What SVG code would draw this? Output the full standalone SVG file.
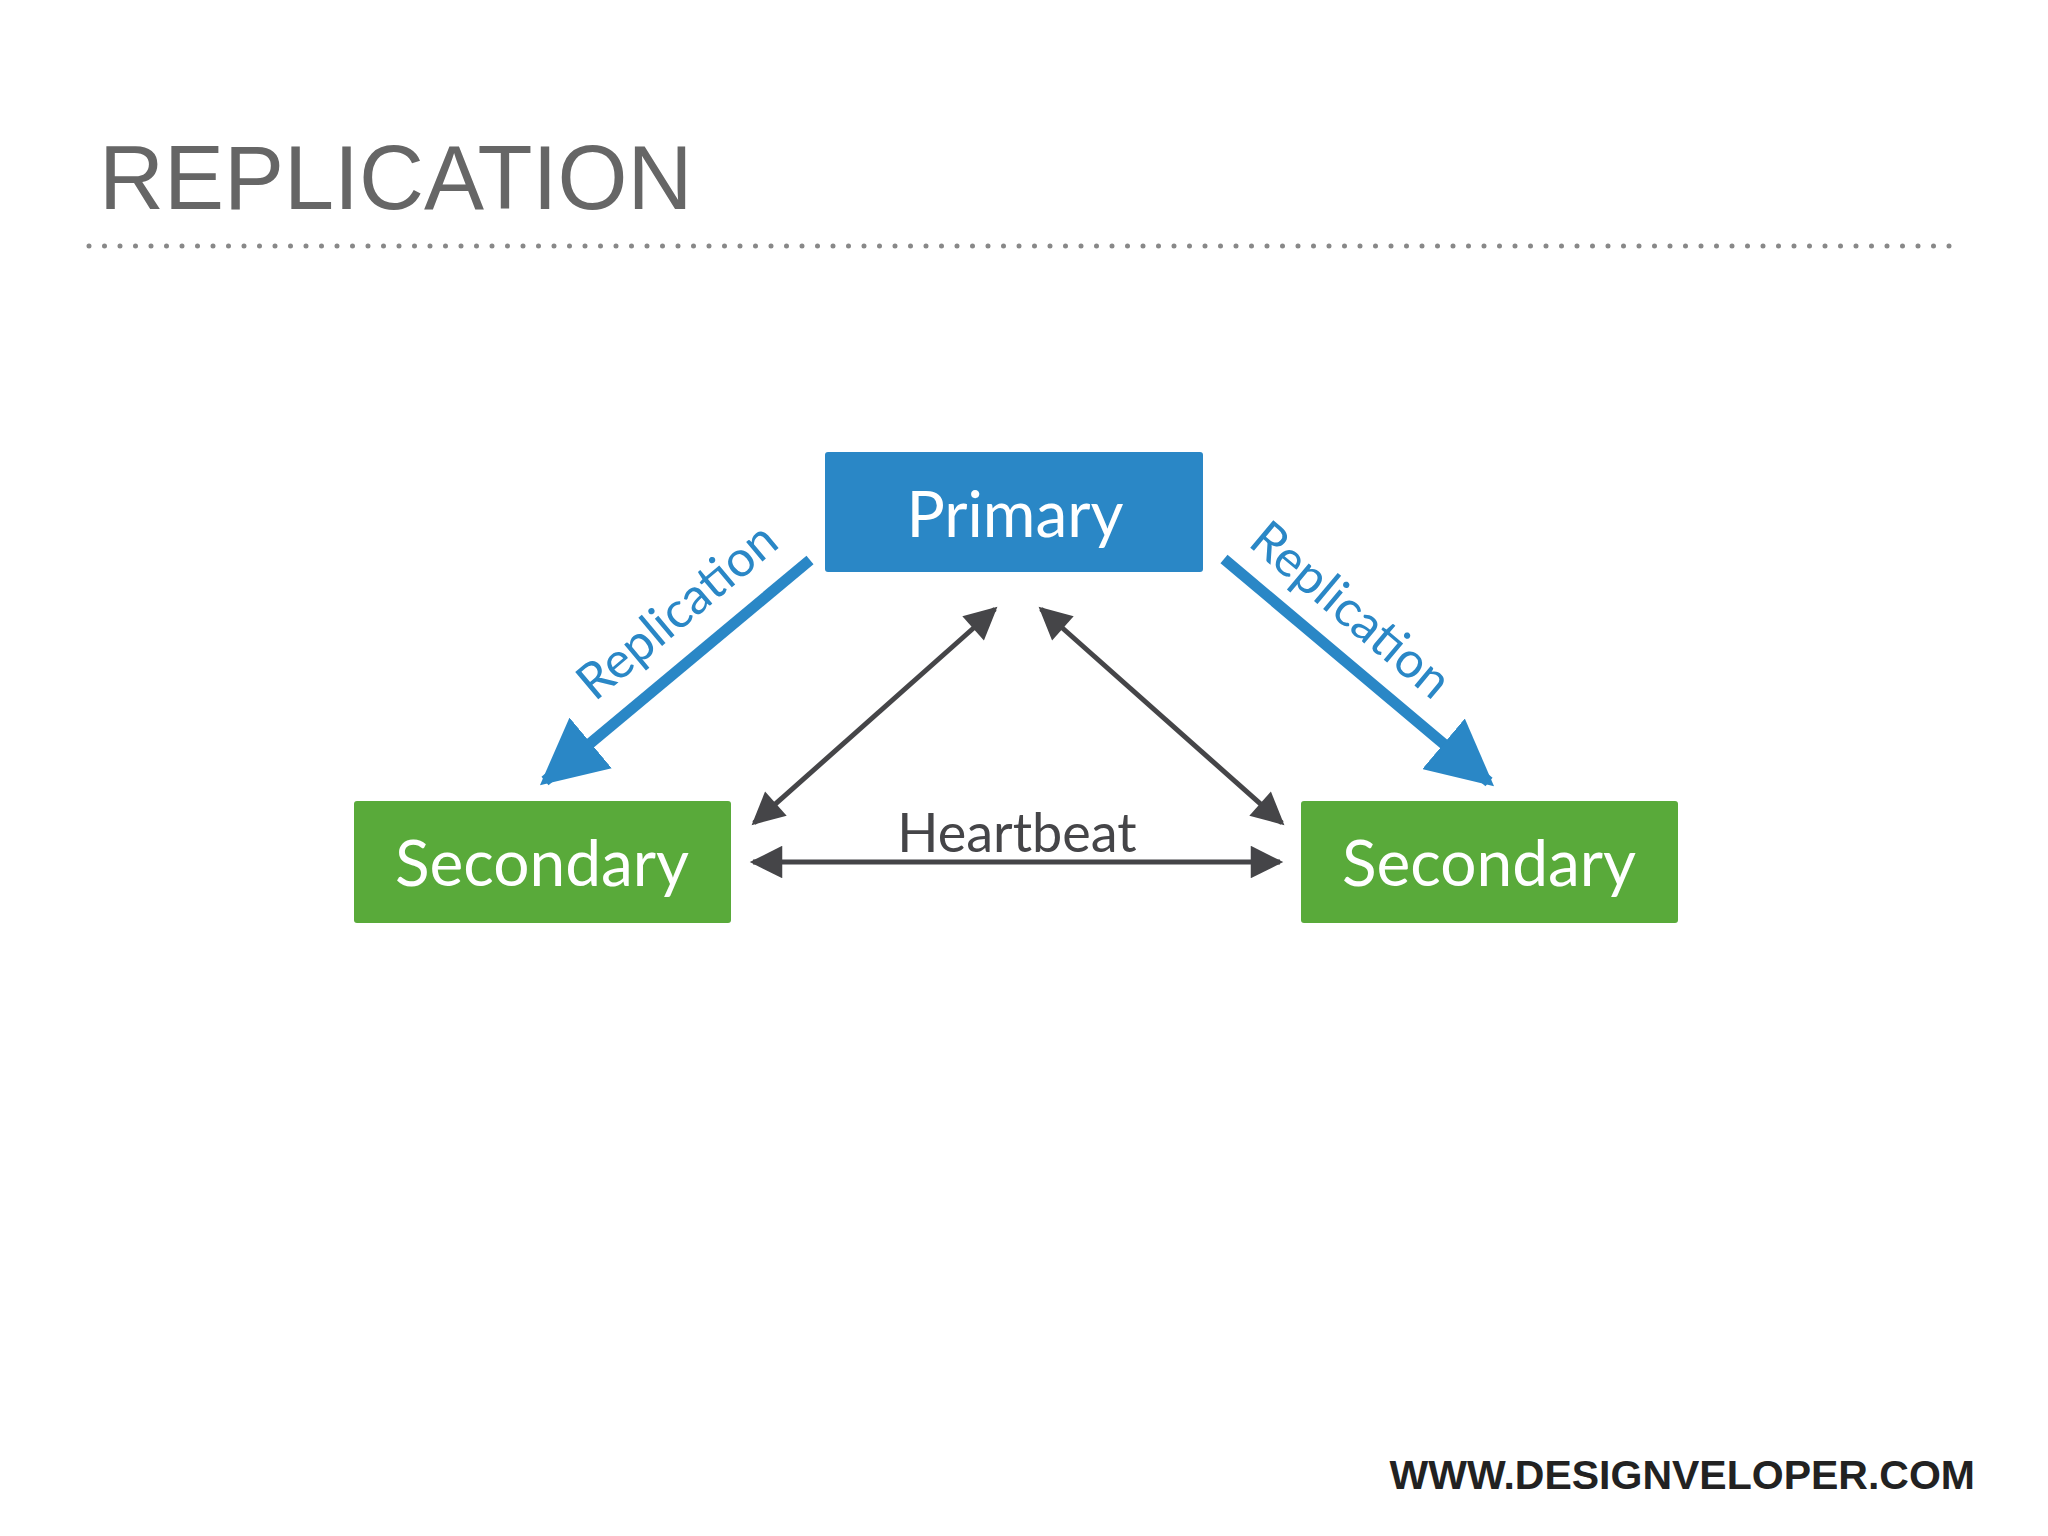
<svg xmlns="http://www.w3.org/2000/svg" width="2048" height="1536" viewBox="0 0 2048 1536">
<defs>
<style>
.node text{font-family:Lato,"Open Sans",sans-serif;font-size:64px;fill:#fff;text-anchor:middle}
.rep{font-family:Lato,"Open Sans",sans-serif;font-size:50px;fill:#2a87c6;text-anchor:middle}
.hb{stroke:#454548;stroke-width:5;fill:none;marker-start:url(#ga);marker-end:url(#ga)}
.bl{stroke:#2a87c6;stroke-width:11;fill:none;marker-end:url(#ba)}
</style>
<marker id="ga" viewBox="0 0 10 10" refX="9" refY="5" markerWidth="8" markerHeight="6.5" orient="auto-start-reverse" markerUnits="strokeWidth"><path d="M0,0 L10,5 L0,10 Z" fill="#454548"/></marker>
<marker id="ba" viewBox="0 0 10 10" refX="9" refY="5" markerWidth="6" markerHeight="6" orient="auto" markerUnits="strokeWidth"><path d="M0,0 L10,5 L0,10 Z" fill="#2a87c6"/></marker>
</defs>
<rect width="2048" height="1536" fill="#fff"/>
<text x="99" y="209" font-family="Liberation Sans,Arial,sans-serif" font-size="90" fill="#666">REPLICATION</text>
<line x1="89" y1="246" x2="1958" y2="246" stroke="#888" stroke-width="5" stroke-linecap="round" stroke-dasharray="0 15.5"/>
<g id="connectors">
<line class="bl" x1="810" y1="560" x2="545" y2="781"/>
<line class="bl" x1="1224" y1="559" x2="1489" y2="782"/>
<line class="hb" x1="995" y1="609" x2="754" y2="823"/>
<line class="hb" x1="1041" y1="609" x2="1282" y2="823"/>
<line class="hb" x1="753" y1="862" x2="1280" y2="862"/>
<text class="rep" transform="translate(688,624) rotate(-40)">Replication</text>
<text class="rep" transform="translate(1340,623) rotate(40)">Replication</text>
<text x="1017" y="852" font-family="Lato,'Open Sans',sans-serif" font-size="54" fill="#454548" text-anchor="middle">Heartbeat</text>
</g>
<g id="primary" class="node"><rect x="825" y="452" width="378" height="120" rx="3" fill="#2a87c6"/><text x="1015" y="537">Primary</text></g>
<g id="secondary-left" class="node"><rect x="354" y="801" width="377" height="122" rx="3" fill="#59aa3a"/><text x="542" y="886">Secondary</text></g>
<g id="secondary-right" class="node"><rect x="1301" y="801" width="377" height="122" rx="3" fill="#59aa3a"/><text x="1489" y="886">Secondary</text></g>
<text x="1975" y="1489" font-family="Liberation Sans,Arial,sans-serif" font-weight="bold" font-size="41" fill="#222" text-anchor="end">WWW.DESIGNVELOPER.COM</text>
</svg>
